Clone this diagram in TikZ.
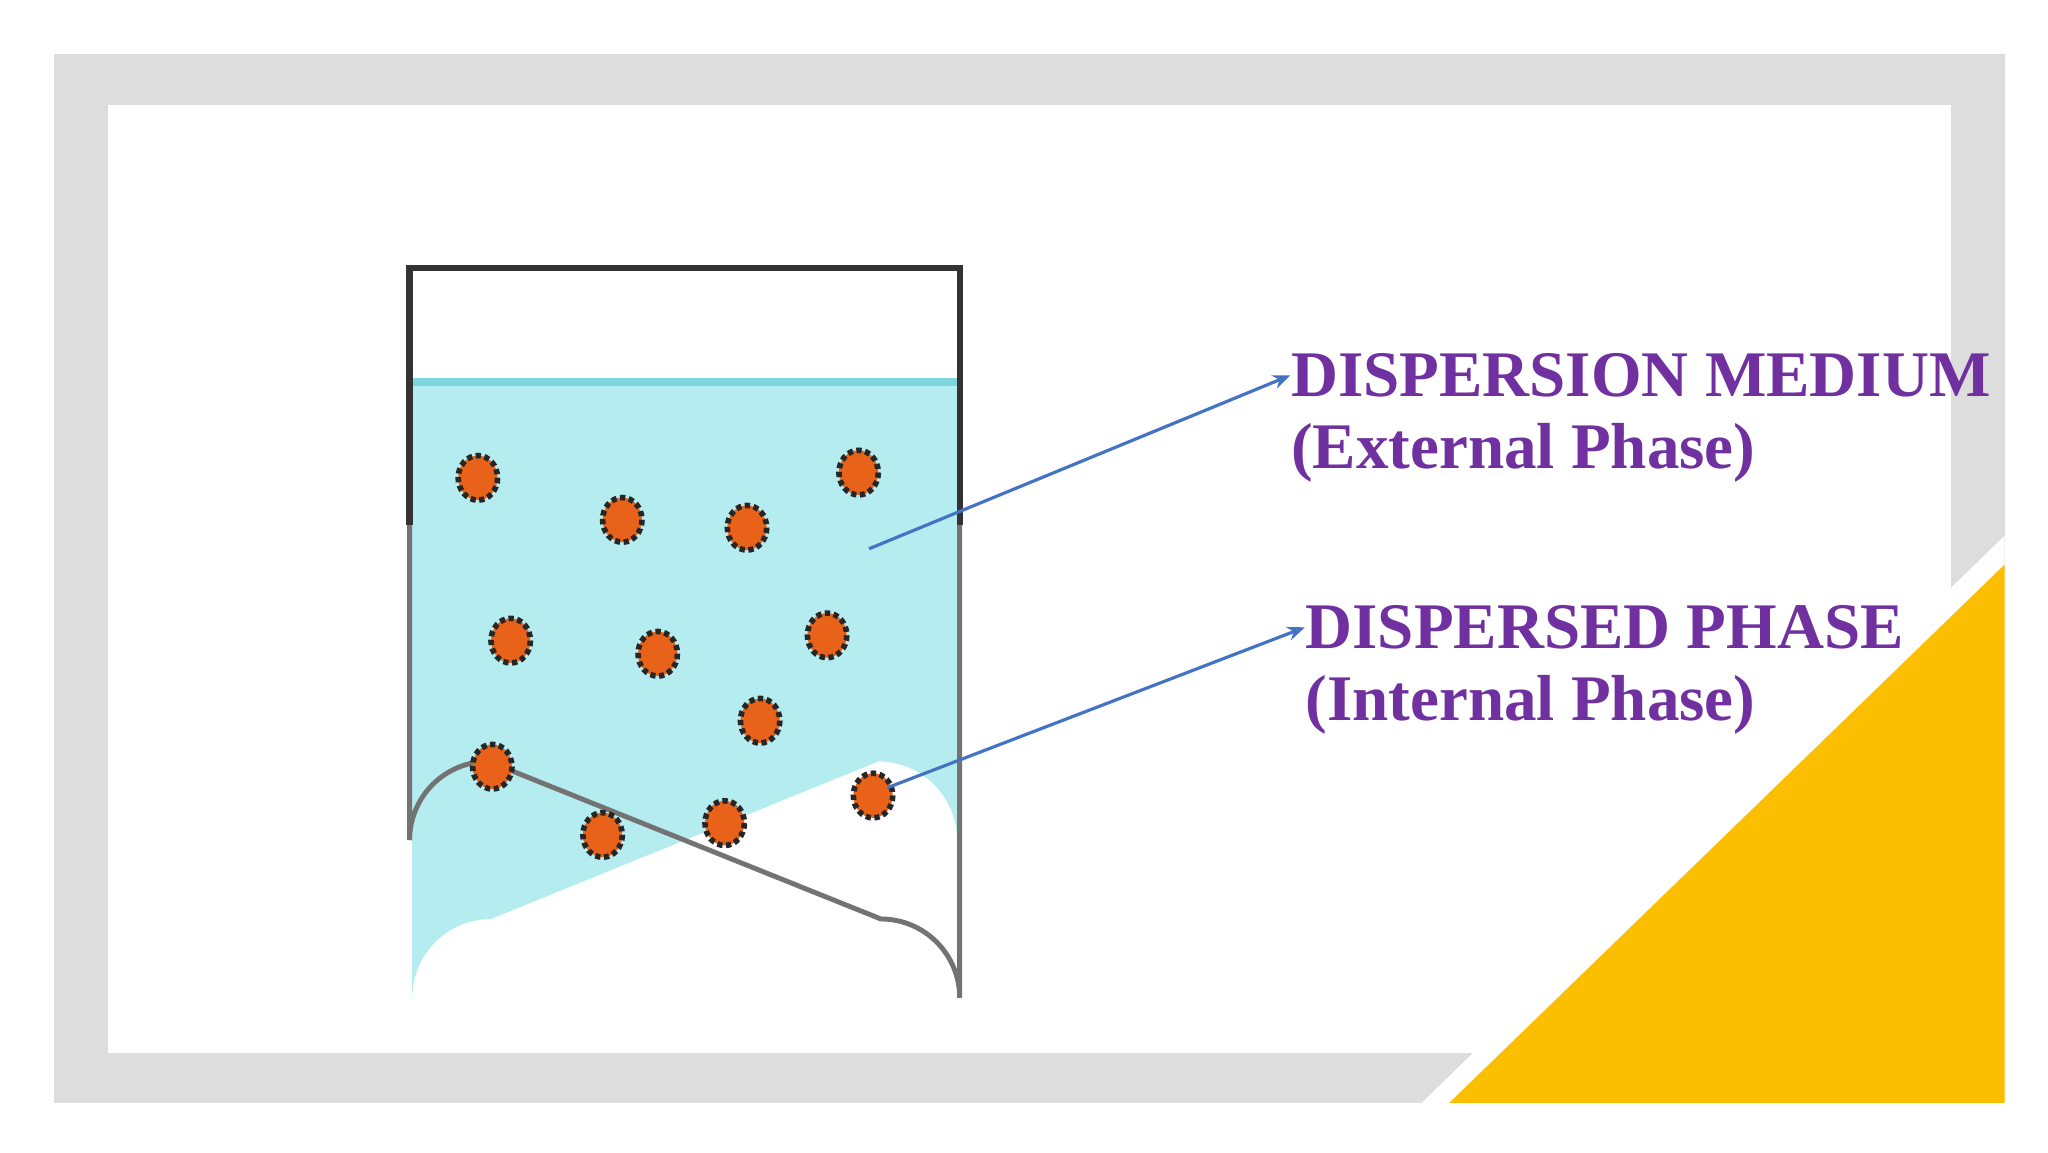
\documentclass[tikz,border=0pt]{standalone}
\usepackage{fontspec}
\setmainfont{Liberation Serif}
\usetikzlibrary{arrows.meta}
\definecolor{framegray}{HTML}{DDDDDD}
\definecolor{slideyellow}{HTML}{FBBF00}
\definecolor{water}{HTML}{B5ECF0}
\definecolor{waterline}{HTML}{7DD6DE}
\definecolor{drop}{HTML}{E8621A}
\definecolor{pointer}{HTML}{4472C4}
\definecolor{labelpurple}{HTML}{7030A0}
\tikzset{every node/.style={inner sep=0pt},
  droplet/.style={fill=drop,draw=black!85,line width=1.6pt,dash pattern=on 1.5pt off 1pt},
  label/.style={anchor=base west,text=labelpurple,font=\fontsize{18.5}{22}\selectfont\bfseries},
  pointerline/.style={pointer,line width=0.9pt,-{Stealth[length=5pt,width=4pt]}}}
\begin{document}
\begin{tikzpicture}[x=0.01313cm,y=-0.01313cm]
  \useasboundingbox (0,0) rectangle (1560,878);
  % slide frame
  \fill[framegray] (41,41) rectangle (1527,840);
  \fill[white] (82,80) rectangle (1486,802);
  \fill[white] (1083,840) -- (1527,408) -- (1527,840) -- cycle;
  \fill[slideyellow] (1104,840) -- (1527,430) -- (1527,840) -- cycle;
  % beaker
  \fill[water] (314,290) -- (729,290) -- (729,640) arc[start angle=0,end angle=-90,radius=60]
    -- (374,700) arc[start angle=-90,end angle=-180,radius=60] -- cycle;
  \draw[waterline,line width=2.5pt] (314,291) -- (729,291);
  \draw[black!80,line width=1.8pt] (312,400) -- (312,204) -- (731,204) -- (731,400);
  \draw[black!55,line width=1.4pt] (312,400) -- (312,640) arc[start angle=180,end angle=270,radius=60]
    -- (671,700) arc[start angle=270,end angle=360,radius=60] -- (731,400);
  % particles
  \foreach \px/\py [count=\i] in {364/364,474/396,569/402,654/360,389/488,501/498,
      630/484,579/549,375/584,459/636,552/627,665/606}
    \draw[droplet] (\px,\py) ellipse[x radius=15,y radius=17];
  \coordinate (inmedium) at (662,418);
  \coordinate (inparticle) at (676,600);
  % labels
  \node[label] (medium) at (983,302) {DISPERSION MEDIUM};
  \node[label] (external) at (983,357) {(External Phase)};
  \node[label] (dispersed) at (994,494) {DISPERSED PHASE};
  \node[label] (internal) at (994,549) {(Internal Phase)};
  \draw[pointerline] (inmedium) -- (medium.west);
  \draw[pointerline] (inparticle) -- (dispersed.west);
\end{tikzpicture}
\end{document}
